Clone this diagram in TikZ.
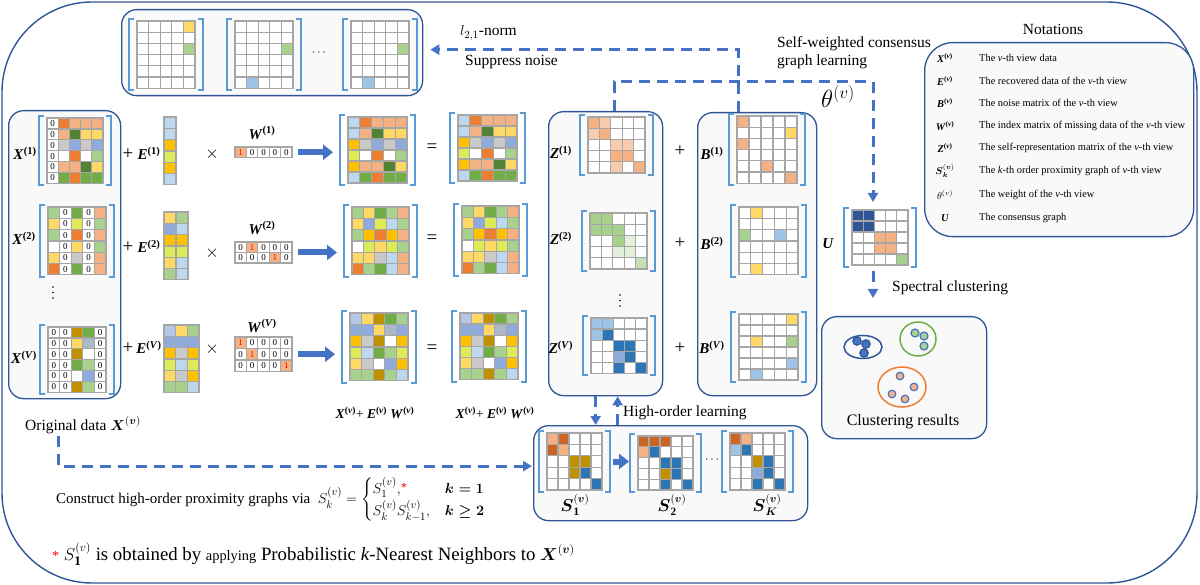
\documentclass[tikz,border=0pt]{standalone}
\usepackage{fontspec}
\setmainfont{Liberation Serif}
\usepackage{amsmath}
\usetikzlibrary{arrows.meta}
\definecolor{wh}{HTML}{FFFFFF}
\definecolor{ze}{HTML}{FFFFFF}
\definecolor{on}{HTML}{F4B183}
\definecolor{lo}{HTML}{F4B183}
\definecolor{or}{HTML}{ED7D31}
\definecolor{dg}{HTML}{548235}
\definecolor{ye}{HTML}{FFD966}
\definecolor{gy}{HTML}{C9C9C9}
\definecolor{bl}{HTML}{8FAADC}
\definecolor{lg}{HTML}{A9D18E}
\definecolor{gr}{HTML}{70AD47}
\definecolor{lb}{HTML}{BDD7EE}
\definecolor{go}{HTML}{FFC000}
\definecolor{li}{HTML}{DDEB58}
\definecolor{ol}{HTML}{BF9000}
\definecolor{gb}{HTML}{ADB9CA}
\definecolor{lc}{HTML}{B4C7E7}
\definecolor{pl}{HTML}{F8CBAD}
\definecolor{pg}{HTML}{E2F0D9}
\definecolor{mg}{HTML}{C5E0B4}
\definecolor{sb}{HTML}{9DC3E6}
\definecolor{db}{HTML}{2E75B6}
\definecolor{nb}{HTML}{2F5597}
\definecolor{so}{HTML}{CC6424}
\definecolor{gline}{HTML}{A6A6A6}
\definecolor{brkc}{HTML}{5B9BD5}
\definecolor{pbord}{HTML}{2F5597}
\definecolor{pfill}{HTML}{F9F9F9}
\definecolor{dblue}{HTML}{4472C4}
\def\ctze{0}
\def\cton{\textcolor{red}{1}}
\newcommand\bis[2]{\textbf{\textit{#1}}\textsuperscript{\textbf{(#2)}}}
\newcommand\gmat[8]{%
 \foreach \rw [count=\ri] in {#8} {\foreach \cc [count=\cj] in \rw {
   \draw[cellst, fill=\cc] ({#2+(\cj-1)*#4},{#3+(\ri-1)*#5}) rectangle ++(#4,#5);
   \ifcsname ct\cc\endcsname
    \node[celltxt] (#1-\ri-\cj) at ({#2+(\cj-0.5)*#4},{#3+(\ri-0.5)*#5}) {\csname ct\cc\endcsname};
   \fi}}%
 \pgfmathsetmacro\gw{#6*#4}\pgfmathsetmacro\gh{#7*#5}%
 \node[inner sep=0, outer sep=0, minimum width=\gw pt, minimum height=\gh pt, anchor=north west] (#1) at (#2,#3) {};
}
\newcommand\bmat[8]{%
 \gmat{#1g}{#2}{#3}{#4}{#5}{#6}{#7}{#8}%
 \pgfmathsetmacro\bxa{#2-8}\pgfmathsetmacro\bxb{#2+#6*#4+8}%
 \pgfmathsetmacro\bya{#3-2}\pgfmathsetmacro\byb{#3+#7*#5+2}%
 \draw[brkst] (\bxa+5,\bya) -- (\bxa,\bya) -- (\bxa,\byb) -- (\bxa+5,\byb);
 \draw[brkst] (\bxb-5,\bya) -- (\bxb,\bya) -- (\bxb,\byb) -- (\bxb-5,\byb);
 \pgfmathsetmacro\bw{\bxb-\bxa}\pgfmathsetmacro\bh{\byb-\bya}%
 \node[inner sep=0, outer sep=0, minimum width=\bw pt, minimum height=\bh pt, anchor=north west] (#1) at (\bxa,\bya) {};
}
\tikzset{
 cellst/.style={draw=gline, line width=1.3pt},
 celltxt/.style={font=\fontsize{9}{9}\selectfont, inner sep=0},
 brkst/.style={draw=brkc, line width=2pt},
 panel/.style={draw=pbord, fill=pfill, line width=1.3pt, rounded corners=15pt, inner sep=0, anchor=north west},
 dashc/.style={draw=dblue, line width=3pt, dash pattern=on 11pt off 7pt, -{Triangle[length=9pt,width=10pt]}},
 blk/.style={draw=dblue, line width=6pt, -{Triangle[length=10pt,width=15pt]}},
 lbl/.style={font=\fontsize{15}{17}\selectfont, inner sep=0},
 txt/.style={font=\fontsize{15.5}{18}\selectfont, inner sep=0},
 op/.style={font=\fontsize{19}{19}\selectfont, inner sep=0},
 ntxt/.style={font=\fontsize{10.4}{12}\selectfont, inner sep=0, anchor=west},
 nsym/.style={font=\fontsize{10.4}{12}\selectfont, inner sep=0},
 dot/.style={line width=1.2pt, draw=dblue},
 vdot/.style={fill=black},
}
\begin{document}
\begin{tikzpicture}[x=1pt,y=-1pt]
\useasboundingbox (0,0) rectangle (1200,585);
% outer frame
\draw[draw=pbord, line width=1.4pt, rounded corners=90pt] (2,2) rectangle (1197,583);
% panels
\node[panel, minimum width=301pt, minimum height=86pt] (noisebox) at (121,9) {};
\node[panel, minimum width=112pt, minimum height=288pt] (xbox) at (8,110) {};
\node[panel, minimum width=114pt, minimum height=284pt] (zbox) at (548,111) {};
\node[panel, minimum width=119pt, minimum height=283pt] (bbox) at (697,112) {};
\node[panel, minimum width=274pt, minimum height=95pt] (sbox) at (533,425) {};
\node[panel, minimum width=165pt, minimum height=122pt] (cbox) at (821,316) {};
\node[panel, rounded corners=28pt, minimum width=269pt, minimum height=194pt] (notbox) at (924,42) {};
% noise matrices
\bmat{N1}{137}{21}{11.6}{11.2}{5}{6}{{wh,wh,wh,wh,ye},{wh,wh,wh,wh,wh},{wh,wh,wh,wh,lg},{wh,wh,wh,wh,wh},{wh,wh,wh,wh,wh},{wh,wh,wh,wh,wh}}
\bmat{N2}{235}{21}{11.6}{11.2}{5}{6}{{wh,wh,wh,wh,wh},{wh,wh,wh,wh,wh},{wh,wh,wh,wh,lg},{wh,wh,wh,wh,wh},{wh,wh,wh,wh,wh},{wh,sb,wh,wh,wh}}
\bmat{N3}{351}{21}{11.6}{11.2}{5}{6}{{wh,wh,wh,wh,wh},{wh,wh,wh,wh,wh},{wh,wh,wh,wh,lg},{wh,wh,wh,wh,wh},{wh,wh,wh,wh,wh},{wh,sb,wh,wh,wh}}
\node[inner sep=0, font=\fontsize{12}{12}\selectfont] (ndots) at (320,53) {$\cdots$};
% row 1
\bmat{X1}{47}{118}{11.2}{10.9}{5}{6}{{ze,or,lo,lo,lo},{ze,lo,dg,ye,ye},{ze,gy,bl,gy,bl},{ze,wh,or,wh,lg},{ze,lo,lo,dg,ye},{ze,gr,or,gr,gr}}
\gmat{E1}{164}{117}{12}{11.3}{1}{6}{{lb},{lb},{go},{li},{go},{lb}}
\gmat{W1}{235}{147}{11.4}{10.5}{5}{1}{{on,ze,ze,ze,ze}}
\bmat{R1}{348}{117}{11.8}{11}{5}{6}{{lb,or,lo,lo,lo},{lb,lo,dg,ye,ye},{go,gy,bl,gy,bl},{li,wh,or,wh,lg},{go,lo,lo,dg,ye},{lb,gr,or,gr,gr}}
\bmat{R1b}{458}{115}{11.8}{11}{5}{6}{{lb,or,lo,lo,lo},{lb,lo,dg,ye,ye},{go,gy,bl,gy,bl},{li,wh,or,wh,lg},{go,lo,lo,dg,ye},{lb,gr,or,gr,gr}}
% row 2
\bmat{X2}{48}{207}{11.6}{11.3}{5}{6}{{lg,ze,gr,ze,lo},{ye,ze,li,ze,lg},{lg,ze,or,ze,lo},{wh,ze,ye,ze,lg},{ye,ze,gy,ze,lo},{or,ze,gr,ze,lo}}
\gmat{E2}{164}{212}{12}{11.3}{2}{6}{{ye,lg},{bl,lb},{go,go},{li,li},{ye,lb},{lg,lb}}
\gmat{W2}{235}{242}{11.4}{10.5}{5}{2}{{ze,on,ze,ze,ze},{ze,ze,ze,on,ze}}
\bmat{R2}{352}{207}{11.4}{11.3}{5}{6}{{lg,ye,gr,lg,lo},{ye,bl,li,lb,lg},{lg,go,or,go,lo},{wh,li,ye,li,lg},{ye,ye,gy,lb,lo},{or,lg,gr,lb,lo}}
\bmat{R2b}{462}{206}{11.4}{11.3}{5}{6}{{lg,ye,gr,lg,lo},{ye,bl,li,lb,lg},{lg,go,or,go,lo},{wh,li,ye,li,lg},{ye,ye,gy,lb,lo},{or,lg,gr,lb,lo}}
% row V
\bmat{XV}{48}{327}{11.6}{10.9}{5}{6}{{ze,ze,ol,gr,ze},{ze,ze,ye,gb,ze},{ze,ze,ol,wh,ze},{ze,ze,gr,lg,ze},{ze,ze,wh,bl,ze},{ze,ze,ol,lg,ze}}
\gmat{EV}{164}{325}{11.7}{11.3}{3}{6}{{lc,ye,lg},{bl,bl,bl},{go,gy,go},{li,lb,li},{ye,gy,go},{lg,lg,lb}}
\gmat{WV}{235}{337}{11.4}{11.5}{5}{3}{{on,ze,ze,ze,ze},{ze,on,ze,ze,ze},{ze,ze,ze,ze,on}}
\bmat{RV}{350}{313}{11.6}{11.3}{5}{6}{{lc,ye,ol,gr,lg},{bl,bl,ye,gb,bl},{go,gy,ol,wh,go},{li,lb,gr,lg,li},{ye,gy,wh,bl,go},{lg,lg,ol,lg,lb}}
\bmat{RVb}{460}{313}{11.6}{11.1}{5}{6}{{lc,ye,ol,gr,lg},{bl,bl,ye,gb,bl},{go,gy,ol,wh,go},{li,lb,gr,lg,li},{ye,gy,wh,bl,go},{lg,lg,ol,lg,lb}}
% labels and operators
\node[lbl] (lx1) at (25,153) {\bis{X}{1}};
\node[lbl] (lx2) at (24,238) {\bis{X}{2}};
\node[lbl] (lxv) at (24,357) {\bis{X}{\textit{V}}};
\node[lbl] (le1) at (149,153) {\bis{E}{1}};
\node[lbl] (le2) at (149,246) {\bis{E}{2}};
\node[lbl] (lev) at (149,347) {\bis{E}{\textit{V}}};
\node[lbl] (lw1) at (262,133) {\bis{W}{1}};
\node[lbl] (lw2) at (262,228) {\bis{W}{2}};
\node[lbl] (lwv) at (262,326) {\bis{W}{\textit{V}}};
\node[op] (p1) at (128,154) {+};
\node[op] (p2) at (128,247) {+};
\node[op] (p3) at (128,348) {+};
\node[op] (t1) at (212,154) {$\times$};
\node[op] (t2) at (212,253) {$\times$};
\node[op] (t3) at (212,349) {$\times$};
\node[op] (q1) at (432,148) {=};
\node[op] (q2) at (432,239) {=};
\node[op] (q3) at (432,349) {=};
\foreach \dy in {287,292.5,298} \fill[vdot] (53,\dy) circle (0.9pt);
\draw[blk, shorten <=6pt, shorten >=7pt] (W1.east) -- (W1.east -| R1.west);
\draw[blk, shorten <=6pt, shorten >=7pt] (W2.east) -- (W2.east -| R2.west);
\draw[blk, shorten <=6pt, shorten >=7pt] (WV.east) -- (WV.east -| RV.west);
\node[inner sep=0, font=\fontsize{13.5}{15}\selectfont] (sum1) at (375,413) {\bis{X}{\textit{v}}+ \bis{E}{\textit{v}} \bis{W}{\textit{v}}};
\node[inner sep=0, font=\fontsize{13.5}{15}\selectfont] (sum2) at (495,413) {\bis{X}{\textit{v}}+ \bis{E}{\textit{v}} \bis{W}{\textit{v}}};
% Z panel
\bmat{Z1}{588}{117}{11.4}{11.2}{5}{5}{{lo,pl,wh,wh,wh},{pl,lo,wh,wh,wh},{wh,wh,pl,pl,wh},{wh,wh,lo,lo,wh},{wh,wh,pl,wh,lo}}
\bmat{Z2}{590}{213}{11.4}{11.2}{5}{5}{{lg,lg,wh,wh,wh},{lg,lg,lg,wh,wh},{wh,wh,lg,pg,wh},{wh,wh,pg,pg,wh},{wh,wh,wh,wh,mg}}
\bmat{ZV}{591}{318}{11.2}{11.1}{5}{5}{{sb,sb,wh,wh,wh},{sb,db,wh,wh,wh},{wh,wh,db,db,wh},{wh,wh,bl,db,wh},{wh,wh,db,wh,db}}
\node[lbl] (lz1) at (561,152) {\bis{Z}{1}};
\node[lbl] (lz2) at (561,238) {\bis{Z}{2}};
\node[lbl] (lzv) at (561,347) {\bis{Z}{\textit{V}}};
\foreach \dy in {295,300.5,306} \fill[vdot] (620,\dy) circle (0.9pt);
\node[op] (pz1) at (680,151) {+};
\node[op] (pz2) at (680,243) {+};
\node[op] (pz3) at (680,348) {+};
% B panel
\bmat{B1}{737}{116}{12}{11.2}{5}{6}{{lo,wh,wh,wh,wh},{wh,wh,wh,wh,ye},{lo,wh,wh,wh,wh},{wh,wh,wh,wh,wh},{wh,wh,lo,wh,wh},{wh,wh,wh,wh,lo}}
\bmat{B2}{739}{207}{11.8}{11.3}{5}{6}{{wh,ye,wh,wh,wh},{wh,wh,wh,wh,wh},{lg,wh,wh,sb,wh},{wh,wh,wh,wh,wh},{wh,wh,wh,wh,wh},{wh,ye,wh,wh,wh}}
\bmat{BV}{739}{314}{11.8}{11}{5}{6}{{wh,wh,wh,wh,ye},{wh,wh,wh,wh,wh},{wh,ye,wh,wh,lg},{wh,wh,wh,wh,wh},{wh,wh,wh,wh,sb},{wh,sb,wh,wh,wh}}
\node[lbl] (lb1) at (712,153) {\bis{B}{1}};
\node[lbl] (lb2) at (712,243) {\bis{B}{2}};
\node[lbl] (lbv) at (712,347) {\bis{B}{\textit{V}}};
% U
\bmat{U}{852}{210}{11.2}{11}{5}{5}{{nb,nb,wh,wh,wh},{nb,nb,wh,wh,wh},{wh,wh,lo,lo,wh},{wh,wh,lo,lo,wh},{wh,wh,wh,wh,lg}}
\node[lbl] (lu) at (828,244) {\textbf{\textit{U}}};
% S panel
\bmat{S1}{547}{433}{11}{11.4}{5}{5}{{lo,so,wh,wh,wh},{so,lo,wh,wh,wh},{wh,wh,ol,ol,wh},{wh,wh,ol,db,wh},{wh,wh,wh,wh,db}}
\bmat{S2}{638}{436}{11}{10.8}{5}{5}{{so,so,so,wh,wh},{lo,db,wh,wh,wh},{wh,wh,db,db,wh},{wh,wh,ol,db,wh},{wh,wh,db,wh,db}}
\bmat{SK}{730}{433}{11}{11.4}{5}{5}{{so,lo,wh,wh,wh},{sb,db,wh,wh,wh},{wh,wh,ol,db,wh},{wh,wh,bl,db,wh},{wh,wh,db,wh,db}}
\node[inner sep=0, font=\fontsize{16}{16}\selectfont] (ls1) at (575,505) {$\boldsymbol{S}_{\mathbf{1}}^{(\boldsymbol{v})}$};
\node[inner sep=0, font=\fontsize{16}{16}\selectfont] (ls2) at (672,505) {$\boldsymbol{S}_{\mathbf{2}}^{(\boldsymbol{v})}$};
\node[inner sep=0, font=\fontsize{16}{16}\selectfont] (lsk) at (767,505) {$\boldsymbol{S}_{\boldsymbol{K}}^{(\boldsymbol{v})}$};
\node[inner sep=0, font=\fontsize{12}{12}\selectfont] (sdots) at (713,460) {$\cdots$};
\draw[blk, shorten <=3pt, shorten >=1pt] (S1.east) -- (S1.east -| S2.west);
% clustering results
\draw[draw=pbord, line width=1.5pt] (863,347) ellipse [x radius=19pt, y radius=11.5pt];
\draw[draw=gr, line width=1.5pt] (918,339) ellipse [x radius=18pt, y radius=17pt];
\draw[draw=or, line width=1.5pt] (902,387) ellipse [x radius=24pt, y radius=20pt];
\foreach \px/\py in {857/341,866/344,864/353} \draw[dot, draw=pbord, fill=dblue] (\px,\py) circle (4.2pt);
\foreach \px/\py in {915/333,924/336,924/346} \draw[dot, fill=lg] (\px,\py) circle (4pt);
\foreach \px/\py in {900/376,914/387,892/394,905/399} \draw[dot, fill=lo] (\px,\py) circle (3.8pt);
% texts
\node[txt, anchor=west] (orig) at (25,425) {Original data $\boldsymbol{X}^{(\boldsymbol{v})}$};
\node[txt, anchor=west] (l21) at (460,33) {$l_{2,1}$-norm};
\node[txt, anchor=west] (supp) at (465,62) {Suppress noise};
\node[txt, anchor=north west, align=left] (selfw) at (777,36) {Self-weighted consensus\\graph learning};
\node[inner sep=0, font=\fontsize{27}{29}\selectfont] (theta) at (838,97) {$\theta^{(v)}$};
\node[txt, anchor=west] (hol) at (623,413) {High-order learning};
\node[txt, anchor=west] (spec) at (892,288) {Spectral clustering};
\node[txt, font=\fontsize{16}{18}\selectfont] (clr) at (903,422) {Clustering results};
\node[txt] (notat) at (1053,29) {Notations};
\node[txt, anchor=west, font=\fontsize{15}{18}\selectfont] (constr) at (56,500) {Construct high-order proximity graphs via\ \ $S_k^{(v)}=\begin{cases}S_1^{(v)},^{\textcolor{red}{\boldsymbol{\ast}}} & \boldsymbol{k=1}\\ S_k^{(v)}S_{k-1}^{(v)}, & \boldsymbol{k\geq 2}\end{cases}$};
\node[inner sep=0, anchor=west, font=\fontsize{18.8}{22}\selectfont] (foot) at (52,554) {\textcolor{red}{\fontsize{14}{14}\selectfont *} $S_{\mathbf{1}}^{(v)}$ is obtained by {\fontsize{14.4}{16}\selectfont applying} Probabilistic \textit{k}-Nearest Neighbors to $\boldsymbol{X}^{(\boldsymbol{v})}$};
% notations
\node[nsym] (s1) at (945,58) {\bis{X}{\textit{v}}};
\node[nsym] (s2) at (945,81) {\bis{E}{\textit{v}}};
\node[nsym] (s3) at (945,103) {\bis{B}{\textit{v}}};
\node[nsym] (s4) at (945,126) {\bis{W}{\textit{v}}};
\node[nsym] (s5) at (945,148) {\bis{Z}{\textit{v}}};
\node[nsym] (s6) at (945,171) {$\boldsymbol{S}_{\boldsymbol{k}}^{(\boldsymbol{v})}$};
\node[nsym] (s7) at (945,195) {$\theta^{(v)}$};
\node[nsym] (s8) at (945,218) {\textbf{\textit{U}}};
\node[ntxt] (d1) at (979,58) {The \textit{v}-th view data};
\node[ntxt] (d2) at (979,81) {The recovered data of the \textit{v}-th view};
\node[ntxt] (d3) at (979,103) {The noise matrix of the \textit{v}-th view};
\node[ntxt] (d4) at (979,126) {The index matrix of missing data of the \textit{v}-th view};
\node[ntxt] (d5) at (979,148) {The self-representation matrix of the \textit{v}-th view};
\node[ntxt] (d6) at (979,171) {The \textit{k}-th order proximity graph of \textit{v}-th view};
\node[ntxt] (d7) at (979,195) {The weight of the \textit{v}-th view};
\node[ntxt] (d8) at (979,218) {The consensus graph};
% dashed connectors
\draw[dashc, shorten >=7pt] ([xshift=41pt]bbox.north west) |- ([yshift=3pt]noisebox.east);
\draw[dashc, shorten >=6pt] ([xshift=66pt]zbox.north west) -- ++(0,-29) -| ([xshift=-7pt]U.north);
\draw[dashc, shorten <=4pt, shorten >=18pt] ([xshift=-7pt]U.south) -- ([xshift=-7pt]U.south |- cbox.north);
\draw[dashc, shorten <=2pt, shorten >=1pt] ([xshift=33pt]orig.south west) |- ([yshift=7pt]sbox.west);
\draw[dashc, shorten >=0pt] ([xshift=-10pt]zbox.south) -- ([xshift=-10pt]zbox.south |- sbox.north);
\draw[dashc, shorten >=0pt] ([xshift=12pt]zbox.south |- sbox.north) -- ([xshift=12pt]zbox.south);
\end{tikzpicture}
\end{document}
